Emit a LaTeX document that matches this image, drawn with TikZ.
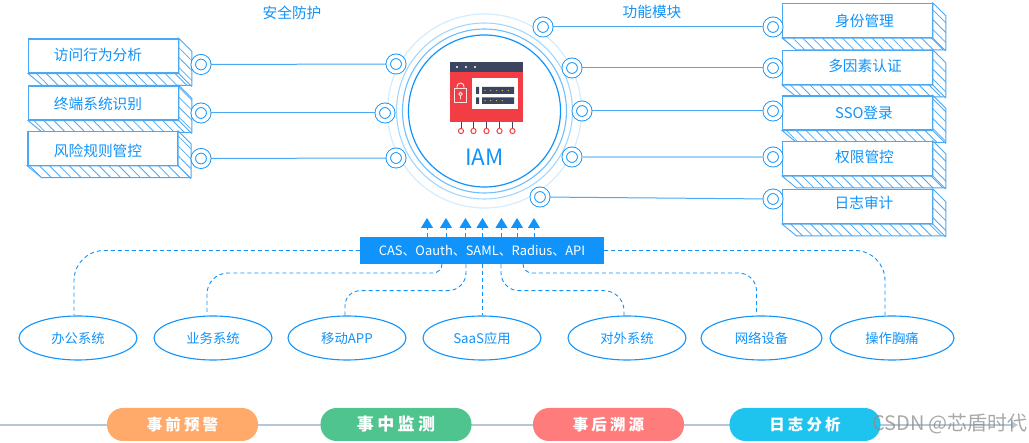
\documentclass[tikz,border=0pt]{standalone}
\usepackage{fontspec}
\setmainfont{Noto Sans CJK SC}
\newfontfamily\pillfont[LetterSpace=20]{Noto Sans CJK SC}
\usetikzlibrary{shapes.geometric,arrows.meta,patterns.meta}
\definecolor{iamblue}{HTML}{1093FA}
\definecolor{iamwire}{HTML}{4AA8F5}
\definecolor{iamred}{HTML}{F23D45}
\definecolor{iamdark}{HTML}{3B4560}
\definecolor{iamgold}{HTML}{D8C060}
\definecolor{iamline}{HTML}{B5C7D9}
\definecolor{iamorange}{HTML}{FFA96A}
\definecolor{iamgreen}{HTML}{50C48F}
\definecolor{iampink}{HTML}{FF7C7C}
\definecolor{iamsky}{HTML}{1FC4EE}
\newcommand{\sidefaces}[1]{\draw[sideface] (#1.north east) -- ++(13,13) -- ++(0,34) -- ++(-149.5,0) -- (#1.south west) -- (#1.south east) -- cycle;
		\draw[sideface,pattern=none] (#1.south east) -- ++(13,13);}
\begin{document}
\begin{tikzpicture}[x=1pt,y=-1pt,
	frontbox/.style = {shape = rectangle, draw = iamwire, line width = 1.2pt, fill = white,
	                   minimum width = 149.5pt, minimum height = 34pt, inner sep = 0pt},
	sideface/.style = {draw = iamwire, line width = .9pt,
	                   pattern = {Lines[angle=-45,distance=7pt,line width=.8pt]}, pattern color = iamwire},
	boxtext/.style = {text = iamblue, inner sep = 0pt, font = \fontsize{14.7}{16}\selectfont},
	ringnode/.style = {shape = circle, draw = iamblue, fill = white, line width = .9pt,
	                   double = white, double distance = 3.6pt,
	                   minimum size = 15.5pt, inner sep = 0pt, outer sep = 2.25pt},
	wire/.style = {draw = iamwire, line width = 1pt},
	palewire/.style = {draw = iamblue!40, line width = 1.5pt},
	hubring/.style = {shape = circle, inner sep = 0pt},
	sysnode/.style = {shape = ellipse, draw = iamblue, line width = 1.1pt, minimum height = 44pt,
	                  inner sep = 0pt, text = iamblue, font = \fontsize{13.3}{15}\selectfont},
	dline/.style = {draw = iamblue, line width = .9pt, dash pattern = on 4pt off 3pt},
	uparrow/.style = {dline, -{Triangle[length=10pt,width=12pt]}},
	pillnode/.style = {shape = rectangle, rounded corners = 16pt, minimum width = 151pt, minimum height = 33pt,
	                   inner sep = 0pt, text = white, font = \pillfont\bfseries\fontsize{15.5}{17}\selectfont}]
	\useasboundingbox (0,0) rectangle (1029,443);
	% hub
	\node[hubring,draw=iamblue!18,line width=1.2pt,minimum size=194pt] (hub4) at (484.5,111) {};
	\node[hubring,draw=iamblue!38,line width=1.1pt,minimum size=176pt] (hub3) at (484.5,111) {};
	\node[hubring,draw=iamblue!60,line width=1.1pt,minimum size=164pt] (hub2) at (484.5,111) {};
	\node[hubring,draw=iamblue,line width=1.2pt,minimum size=152pt] (hub1) at (484.5,111) {};
	% icon
	\fill[iamred] (450,62) rectangle (523,122);
	\fill[iamdark] (450,62) rectangle (523,72);
	\fill[white] (457,67) circle (1.1) (466,67) circle (1.1) (475,67) circle (1.1);
	\fill[white] (472,78) rectangle (518,109);
	\fill[iamdark] (476,87) rectangle (479,94) (482,87) rectangle (514,94);
	\fill[iamdark] (476,97.5) rectangle (479,104) (482,97.5) rectangle (514,104);
	\fill[iamgold] (485,90.5) circle (.7) (490.7,90.5) circle (.7) (496.7,90.5) circle (.7) (502.3,90.5) circle (.7) (508.3,90.5) circle (.7);
	\fill[iamgold] (485,100.7) circle (.7) (490.7,100.7) circle (.7) (496.7,100.7) circle (.7) (502.3,100.7) circle (.7);
	\draw[white!85!iamred,line width=.9pt] (454.5,88.5) rectangle (466.5,102);
	\draw[white!85!iamred,line width=.9pt] (457,88.5) -- (457,86.5) arc[start angle=180,end angle=360,x radius=3.5,y radius=3.5] -- (464,88.5);
	\draw[white!85!iamred,line width=.8pt] (460.5,94) circle (1.8) (460.5,95.8) -- (460.5,99.5);
	\draw[iamdark,line width=1pt] (461,122) -- (461,128) (473.5,122) -- (473.5,128) (486.5,122) -- (486.5,128) (499.5,122) -- (499.5,128) (512.5,122) -- (512.5,128);
	\draw[iamred,fill=white,line width=1pt] (461,131) circle (2.6) (473.5,131) circle (2.6) (486.5,131) circle (2.6) (499.5,131) circle (2.6) (512.5,131) circle (2.6);
	\node[text=iamblue,inner sep=0pt,font=\fontsize{22.5}{26}\selectfont] (iamtext) at (484.5,157) {IAM};
	% headings
	\node[boxtext] (safehead) at (292,13) {安全防护};
	\node[boxtext] (funchead) at (652,12) {功能模块};
	% left boxes
	\node[frontbox] (l1) at (103.5,56) {};
	\node[frontbox] (l2) at (103.5,103) {};
	\node[frontbox] (l3) at (102.7,148.3) {};
	\sidefaces{l1}
	\sidefaces{l2}
	\sidefaces{l3}
	\node[frontbox] (l1) at (103.5,56) {};
	\node[frontbox] (l2) at (103.5,103) {};
	\node[frontbox] (l3) at (102.7,148.3) {};
	\node[boxtext] (l1t) at (98,55) {访问行为分析};
	\node[boxtext] (l2t) at (98,104) {终端系统识别};
	\node[boxtext] (l3t) at (98,151) {风险规则管控};
	% right boxes
	\node[frontbox] (r1) at (857.5,20.5) {};
	\node[frontbox] (r2) at (857.5,67.5) {};
	\node[frontbox] (r3) at (857.5,113) {};
	\node[frontbox] (r4) at (857.5,158.5) {};
	\node[frontbox] (r5) at (857.5,206.5) {};
	\sidefaces{r1}
	\sidefaces{r2}
	\sidefaces{r3}
	\sidefaces{r4}
	\sidefaces{r5}
	\node[frontbox] (r1) at (857.5,20.5) {};
	\node[frontbox] (r2) at (857.5,67.5) {};
	\node[frontbox] (r3) at (857.5,113) {};
	\node[frontbox] (r4) at (857.5,158.5) {};
	\node[frontbox] (r5) at (857.5,206.5) {};
	\node[boxtext] (r1t) at (864.5,21) {身份管理};
	\node[boxtext] (r2t) at (865,66) {多因素认证};
	\node[boxtext] (r3t) at (864,113) {SSO登录};
	\node[boxtext] (r4t) at (864.5,157) {权限管控};
	\node[boxtext] (r5t) at (864,203) {日志审计};
	% rings
	\node[ringnode] (la1) at (201,64.5) {};
	\node[ringnode] (la2) at (201,113) {};
	\node[ringnode] (la3) at (201,158.5) {};
	\node[ringnode] (lb1) at (396,64) {};
	\node[ringnode] (lb2) at (385,113) {};
	\node[ringnode] (lb3) at (396,158) {};
	\node[ringnode] (ra1) at (543,27) {};
	\node[ringnode] (ra2) at (572,68) {};
	\node[ringnode] (ra3) at (582,111) {};
	\node[ringnode] (ra4) at (572,157) {};
	\node[ringnode] (ra5) at (540,197) {};
	\node[ringnode] (rb1) at (773,27) {};
	\node[ringnode] (rb2) at (773,68) {};
	\node[ringnode] (rb3) at (773,111) {};
	\node[ringnode] (rb4) at (773,157) {};
	\node[ringnode] (rb5) at (773,199) {};
	\path (la1) edge[wire] (lb1);
	\path (la2) edge[wire] (lb2);
	\path (la3) edge[wire] (lb3);
	\path (ra1) edge[wire] (rb1);
	\path (ra2) edge[wire] (rb2);
	\path (ra3) edge[wire] (rb3);
	\path (ra4) edge[palewire] (rb4);
	\path (ra5) edge[wire] (rb5);
	% protocol bar
	\node[shape=rectangle,fill=iamblue,minimum width=244pt,minimum height=27pt,inner sep=0pt,text=white,font=\fontsize{12.9}{14}\selectfont] (bar) at (482,250.5) {CAS、Oauth、SAML、Radius、API};
	\coordinate (t1) at (427,218);
	\coordinate (t2) at (446,218);
	\coordinate (t3) at (465.5,218);
	\coordinate (t4) at (482.5,218);
	\coordinate (t5) at (501.5,218);
	\coordinate (t6) at (517,218);
	\coordinate (t7) at (534,218);
	\draw[uparrow] (bar.north -| t1) -- (t1);
	\draw[uparrow] (bar.north -| t2) -- (t2);
	\draw[uparrow] (bar.north -| t3) -- (t3);
	\draw[uparrow] (bar.north -| t4) -- (t4);
	\draw[uparrow] (bar.north -| t5) -- (t5);
	\draw[uparrow] (bar.north -| t6) -- (t6);
	\draw[uparrow] (bar.north -| t7) -- (t7);
	% systems
	\node[sysnode,minimum width=118pt] (s1) at (78,338) {办公系统};
	\node[sysnode,minimum width=118pt] (s2) at (213,338) {业务系统};
	\node[sysnode,minimum width=118pt] (s3) at (347,338) {移动APP};
	\node[sysnode,minimum width=118pt] (s4) at (482,338) {SaaS应用};
	\node[sysnode,minimum width=118pt] (s5) at (627,338) {对外系统};
	\node[sysnode,minimum width=121pt] (s6) at (761.5,338) {网络设备};
	\node[sysnode,minimum width=124pt] (s7) at (892,338) {操作胸痛};
	\draw[dline,rounded corners=30pt] (bar.west) -| ([xshift=-4pt]s1.north);
	\draw[dline] ([xshift=-40pt]bar.south) [rounded corners=9pt] |- (300,273) [rounded corners=21pt] -| ([xshift=-6pt]s2.north);
	\draw[dline] ([xshift=-16pt]bar.south) [rounded corners=18pt] |- (400,290.7) [rounded corners=15pt] -| ([xshift=-2pt]s3.north);
	\draw[dline] (bar.south) -- (s4.north);
	\draw[dline] ([xshift=19pt]bar.south) [rounded corners=18pt] |- (570,290.7) [rounded corners=20pt] -| ([xshift=-3pt]s5.north);
	\draw[dline] ([xshift=41pt]bar.south) [rounded corners=9pt] |- (650,273) [rounded corners=18pt] -| ([xshift=-5pt]s6.north);
	\draw[dline,rounded corners=30pt] (bar.east) -| ([xshift=-7pt]s7.north);
	% timeline
	\coordinate (ts) at (0,425);
	\coordinate (te) at (1018,425);
	\draw[draw=iamline,line width=2pt,-{Triangle[length=7pt,width=8pt]}] (ts) -- (te);
	\node[pillnode,fill=iamorange] (p1) at (182.5,424.5) {事前预警};
	\node[pillnode,fill=iamgreen,font=\pillfont\bfseries\fontsize{17}{19}\selectfont] (p2) at (396,424.5) {事中监测};
	\node[pillnode,fill=iampink] (p3) at (608.5,424.5) {事后溯源};
	\node[pillnode,fill=iamsky] (p4) at (805,424.5) {日志分析};
	\node[text=black!45,text opacity=.75,inner sep=0pt,font=\fontsize{20}{22}\selectfont] (mark) at (950,424) {CSDN @芯盾时代};
\end{tikzpicture}
\end{document}
